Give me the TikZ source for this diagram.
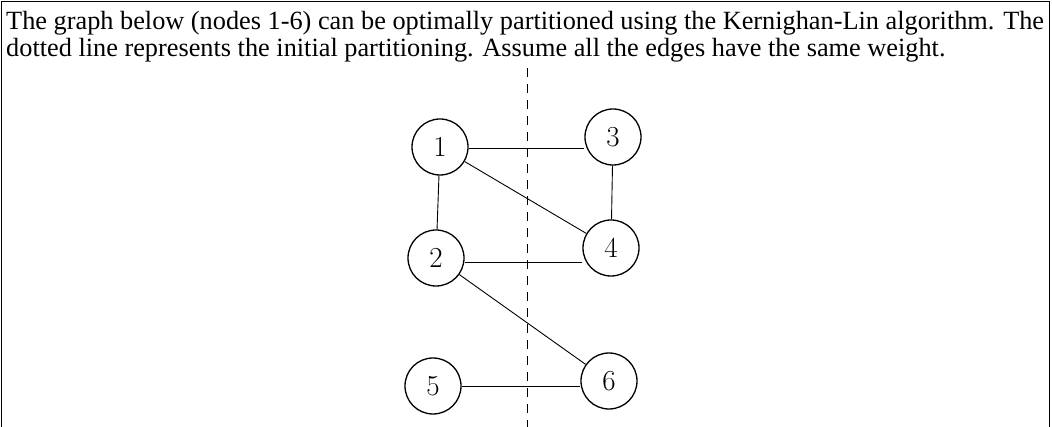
\documentclass[tikz,border=0pt]{standalone}
\usepackage{fontspec}
\newfontfamily\tnr{Liberation Serif}
\begin{document}
\begin{tikzpicture}[x=1pt,y=-1pt,
  vtx/.style={draw,line width=1.3pt,circle,minimum width=56pt,inner sep=0pt,font=\fontsize{29}{29}\selectfont},
  edge/.style={line width=0.9pt}]
\useasboundingbox (0,0) rectangle (1052,427);
\draw[line width=0.8pt] (1,427) -- (1,1) -- (1049,1) -- (1049,427);
\node[anchor=base west,inner sep=0pt,font=\tnr\fontsize{26.3}{30}\selectfont] (t1) at (6,30)
 {The graph below (nodes 1-6) can be optimally partitioned using the Kernighan-Lin algorithm. The};
\node[anchor=base west,inner sep=0pt,font=\tnr\fontsize{26.3}{30}\selectfont] (t2) at (6,57)
 {dotted line represents the initial partitioning. Assume all the edges have the same weight.};
\coordinate (dtop) at (527,68);
\coordinate (dbot) at (527,427);
\draw[line width=0.8pt,dash pattern=on 9pt off 7pt] (dtop) -- (dbot);
\node[vtx] (n1) at (440,147) {1};
\node[vtx] (n3) at (613,137) {3};
\node[vtx] (n2) at (436,258) {2};
\node[vtx] (n4) at (611,248) {4};
\node[vtx] (n5) at (433,386) {5};
\node[vtx] (n6) at (609,381) {6};
\draw[edge] (n1.east |- 0,148) -- (n3.west |- 0,148);
\draw[edge] (n3) -- (n4);
\draw[edge] (n1) -- (n4);
\draw[edge] (n1) -- (n2);
\draw[edge] (n2.east |- 0,262) -- (n4.west |- 0,262);
\draw[edge] (n2) -- (n6);
\draw[edge] (n5.east |- 0,386) -- (n6.west |- 0,386);
\end{tikzpicture}
\end{document}
